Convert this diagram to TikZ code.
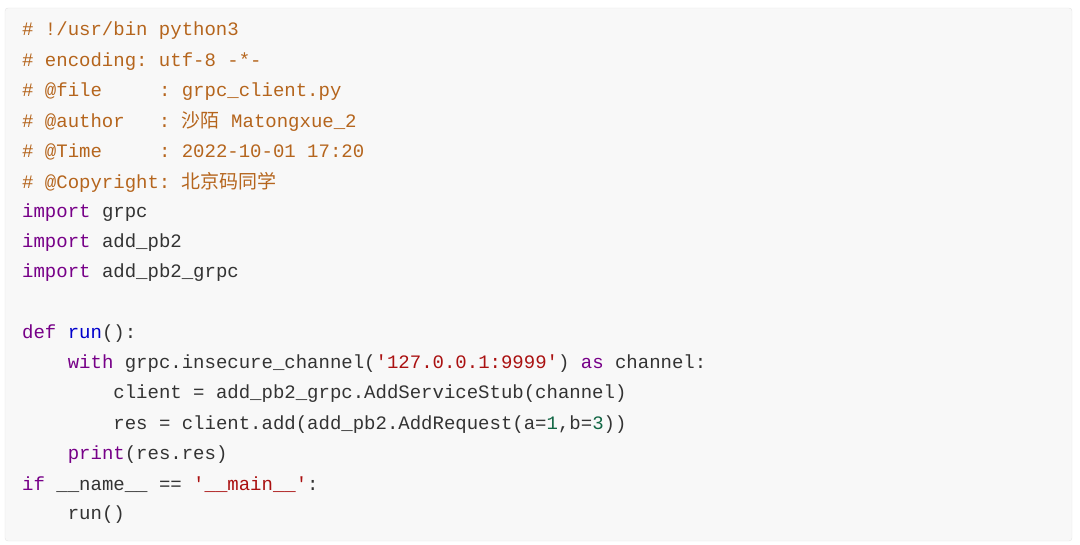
\documentclass[tikz,border=0pt]{standalone}
\usepackage{fontspec}
\setmonofont{Liberation Mono}
\newfontfamily\cjk{Noto Sans CJK SC}
\definecolor{bgc}{HTML}{F8F8F8}
\definecolor{bdc}{HTML}{E3E3E3}
\definecolor{cmt}{HTML}{B5651D}
\definecolor{kw}{HTML}{770088}
\definecolor{fn}{HTML}{0000CC}
\definecolor{str}{HTML}{AA1111}
\definecolor{num}{HTML}{116644}
\definecolor{txt}{HTML}{333333}
\newcommand{\C}[1]{\textcolor{cmt}{#1}}
\newcommand{\K}[1]{\textcolor{kw}{#1}}
\newcommand{\F}[1]{\textcolor{fn}{#1}}
\newcommand{\Sx}[1]{\textcolor{str}{#1}}
\newcommand{\N}[1]{\textcolor{num}{#1}}
\begin{document}
\begin{tikzpicture}[x=1pt,y=1pt,
  code/.style={anchor=west,inner sep=0pt,text=txt,font=\ttfamily\fontsize{19}{19}\selectfont}]
\useasboundingbox (0,0) rectangle (1080,545);
\draw[bdc,fill=bgc,rounded corners=3pt] (5,4) rectangle (1072,537);
\newcommand{\Y}[1]{514-30.25*#1}
\node[code] (l0) at (22,{\Y{0}}) {\C{\# !/usr/bin python3}};
\node[code] (l1) at (22,{\Y{1}}) {\C{\# encoding: utf-8 -*-}};
\node[code] (l2) at (22,{\Y{2}}) {\C{\# @file\ \ \ \ \ : grpc\_client.py}};
\node[code] (l3) at (22,{\Y{3}}) {\C{\# @author\ \ \ : {\cjk 沙陌} Matongxue\_2}};
\node[code] (l4) at (22,{\Y{4}}) {\C{\# @Time\ \ \ \ \ : 2022-10-01 17:20}};
\node[code] (l5) at (22,{\Y{5}}) {\C{\# @Copyright: {\cjk 北京码同学}}};
\node[code] (l6) at (22,{\Y{6}}) {\K{import} grpc};
\node[code] (l7) at (22,{\Y{7}}) {\K{import} add\_pb2};
\node[code] (l8) at (22,{\Y{8}}) {\K{import} add\_pb2\_grpc};
\node[code] (l10) at (22,{\Y{10}}) {\K{def} \F{run}():};
\node[code] (l11) at (22,{\Y{11}}) {\ \ \ \ \K{with} grpc.insecure\_channel(\Sx{'127.0.0.1:9999'}) \K{as} channel:};
\node[code] (l12) at (22,{\Y{12}}) {\ \ \ \ \ \ \ \ client = add\_pb2\_grpc.AddServiceStub(channel)};
\node[code] (l13) at (22,{\Y{13}}) {\ \ \ \ \ \ \ \ res = client.add(add\_pb2.AddRequest(a=\N{1},b=\N{3}))};
\node[code] (l14) at (22,{\Y{14}}) {\ \ \ \ \K{print}(res.res)};
\node[code] (l15) at (22,{\Y{15}}) {\K{if} \_\_name\_\_ == \Sx{'\_\_main\_\_'}:};
\node[code] (l16) at (22,{\Y{16}}) {\ \ \ \ run()};
\end{tikzpicture}
\end{document}
